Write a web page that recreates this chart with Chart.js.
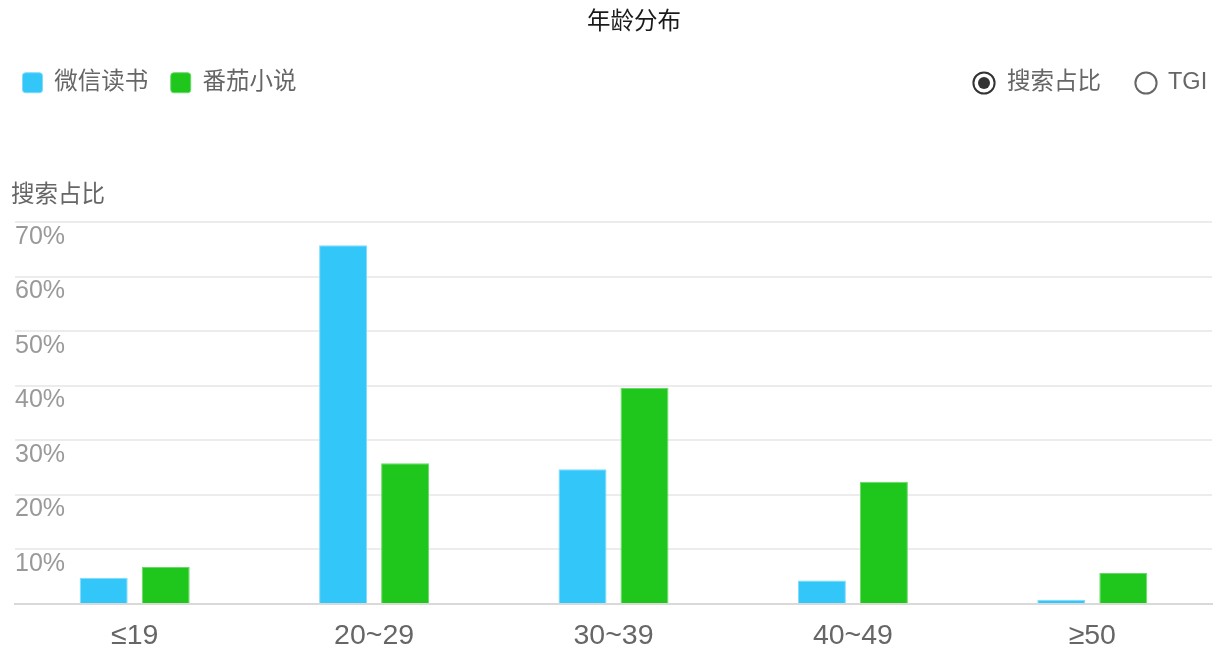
<!DOCTYPE html>
<html>
<head>
<meta charset="utf-8">
<script src="https://cdn.jsdelivr.net/npm/chart.js@4.4.1/dist/chart.umd.min.js"></script>
<style>
  html, body { margin: 0; padding: 0; background: #fff; }
  #wrap { position: relative; width: 1228px; height: 672px; }
</style>
</head>
<body>
<div id="wrap"><canvas id="c" width="1228" height="672"></canvas></div>
<script>
const chartTitle = '年龄分布';
const yAxisTitle = '搜索占比';
const categories = ['≤19', '20~29', '30~39', '40~49', '≥50'];
const seriesNames = ['微信读书', '番茄小说'];
const wereadValues = [4.8, 65.8, 24.7, 4.3, 0.8];
const fanqieValues = [6.8, 25.8, 39.6, 22.4, 5.7];
const radioOptions = ['搜索占比', 'TGI'];
const yMax = 70;
const yStep = 10;

const FONT = '"Liberation Sans", "Noto Sans CJK SC", sans-serif';
Chart.defaults.font.family = FONT;

const legendSpace = {
  id: 'legendSpace',
  beforeInit(chart) {
    const origFit = chart.legend.fit;
    chart.legend.fit = function () {
      origFit.call(this);
      this.height += 118.8;
    };
  }
};

const decorations = {
  id: 'decorations',
  afterDraw(chart) {
    const ctx = chart.ctx;
    ctx.save();
    ctx.textBaseline = 'middle';
    ctx.fillStyle = '#1a1a1a';
    ctx.font = '23.5px ' + FONT;
    ctx.textAlign = 'center';
    ctx.fillText(chartTitle, 634, 22.5);
    ctx.fillStyle = '#666';
    ctx.textAlign = 'left';
    ctx.fillText(yAxisTitle, 11, 196);
    const rx = [984, 1146];
    ctx.lineWidth = 2;
    ctx.strokeStyle = '#333';
    ctx.beginPath(); ctx.arc(rx[0], 83, 10.6, 0, Math.PI * 2); ctx.stroke();
    ctx.fillStyle = '#333';
    ctx.beginPath(); ctx.arc(rx[0], 83, 6, 0, Math.PI * 2); ctx.fill();
    ctx.strokeStyle = '#666';
    ctx.beginPath(); ctx.arc(rx[1], 83, 10.6, 0, Math.PI * 2); ctx.stroke();
    ctx.fillStyle = '#666';
    ctx.fillText(radioOptions[0], 1007, 82.5);
    ctx.fillText(radioOptions[1], 1168, 82.5);
    ctx.restore();
  }
};

new Chart(document.getElementById('c'), {
  type: 'bar',
  data: {
    labels: categories,
    datasets: [
      {
        label: seriesNames[0],
        data: wereadValues,
        backgroundColor: '#33c6f8',
        borderColor: '#7fdafb',
        borderWidth: 1,
        categoryPercentage: 0.518,
        barPercentage: 0.774
      },
      {
        label: seriesNames[1],
        data: fanqieValues,
        backgroundColor: '#1fc61c',
        borderColor: '#6ad868',
        borderWidth: 1,
        categoryPercentage: 0.518,
        barPercentage: 0.774
      }
    ]
  },
  options: {
    responsive: false,
    animation: false,
    devicePixelRatio: 1,
    layout: { padding: { top: 48.5, left: 0, right: 16, bottom: 3.8 } },
    plugins: {
      title: { display: false },
      tooltip: { enabled: false },
      legend: {
        display: true,
        position: 'top',
        align: 'start',
        labels: {
          font: { size: 23.5 },
          color: '#666',
          boxWidth: 20,
          boxHeight: 20,
          useBorderRadius: true,
          borderRadius: 3,
          padding: 22.5
        }
      }
    },
    scales: {
      x: {
        grid: { display: false, drawTicks: false },
        border: { display: true, color: '#d9d9d9', width: 2 },
        ticks: { font: { size: 28.5 }, color: '#666', padding: 15 }
      },
      y: {
        min: 0,
        max: yMax,
        afterFit(scale) { scale.width = 15; },
        grid: {
          color: ctx => ctx.tick && ctx.tick.value === 0 ? 'rgba(0,0,0,0)' : '#ececec',
          lineWidth: 2,
          drawTicks: false
        },
        border: { display: false },
        ticks: {
          stepSize: yStep,
          mirror: true,
          padding: 0,
          labelOffset: 14.5,
          font: { size: 25 },
          color: '#999',
          callback: v => (v === 0 ? '' : v + '%')
        }
      }
    }
  },
  plugins: [
    {
      id: 'legendSpace',
      beforeInit(chart) {
        const origFit = chart.legend.fit;
        chart.legend.fit = function () {
          origFit.call(this);
          this.height += 117.8;
        };
      }
    },
    decorations
  ]
});
</script>
</body>
</html>
